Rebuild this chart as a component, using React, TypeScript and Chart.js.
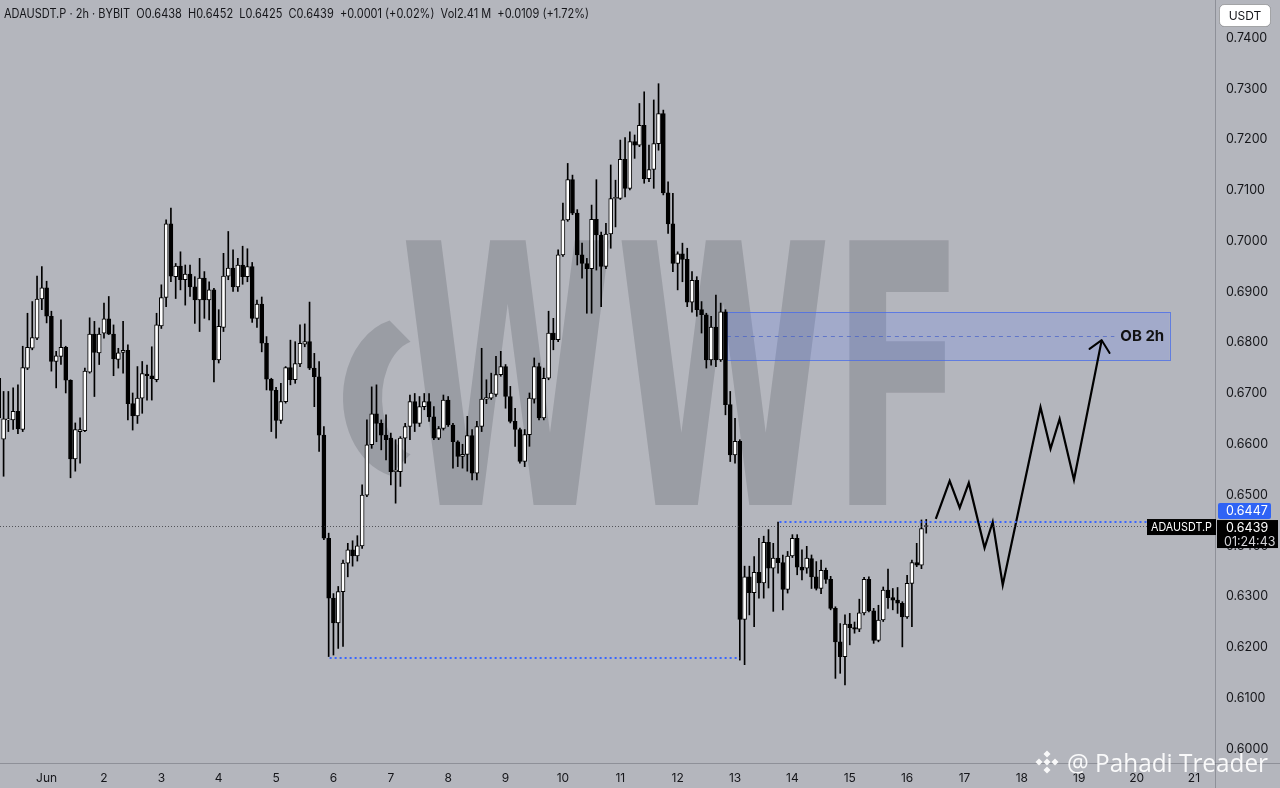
import React, { useEffect, useRef } from 'react';
import { Chart, registerables } from 'chart.js';

Chart.register(...registerables);

// 2h candles; candle index 0 = Jun 1 00:00
const FIRST_CANDLE_INDEX = -10;

const openPrices = [
  0.6730, 0.6610, 0.6648, 0.6648, 0.6665, 0.6629, 0.6750, 0.6789, 0.6809, 0.6886,
  0.6908, 0.6852, 0.6763, 0.6773, 0.6791, 0.6726, 0.6571, 0.6625, 0.6627, 0.6742,
  0.6817, 0.6780, 0.6819, 0.6847, 0.6817, 0.6767, 0.6781, 0.6785, 0.6680, 0.6656,
  0.6691, 0.6738, 0.6735, 0.6727, 0.6833, 0.6889, 0.7034, 0.6930, 0.6951, 0.6924,
  0.6935, 0.6910, 0.6884, 0.6927, 0.6884, 0.6904, 0.6766, 0.6830, 0.6931, 0.6947,
  0.6910, 0.6953, 0.6930, 0.6950, 0.6848, 0.6876, 0.6799, 0.6728, 0.6706, 0.6647,
  0.6684, 0.6751, 0.6727, 0.6758, 0.6797, 0.6802, 0.6750, 0.6733, 0.6618, 0.6415,
  0.6297, 0.6248, 0.6310, 0.6366, 0.6392, 0.6380, 0.6400, 0.6500, 0.6599, 0.6660,
  0.6641, 0.6618, 0.6612, 0.6546, 0.6546, 0.6612, 0.6635, 0.6684, 0.6641, 0.6674,
  0.6684, 0.6654, 0.6612, 0.6631, 0.6687, 0.6638, 0.6605, 0.6576, 0.6580, 0.6617,
  0.6543, 0.6635, 0.6689, 0.6691, 0.6698, 0.6737, 0.6753, 0.6694, 0.6645, 0.6629,
  0.6566, 0.6619, 0.6689, 0.6753, 0.6652, 0.6730, 0.6819, 0.6806, 0.6973, 0.7042,
  0.7121, 0.7055, 0.6973, 0.6956, 0.6946, 0.7043, 0.7012, 0.6950, 0.7014, 0.7084,
  0.7084, 0.7161, 0.7104, 0.7196, 0.7189, 0.7228, 0.7123, 0.7141, 0.7192, 0.7251,
  0.7095, 0.7034, 0.6956, 0.6975, 0.6964, 0.6880, 0.6923, 0.6865, 0.6855, 0.6766,
  0.6831, 0.6766, 0.6861, 0.6678, 0.6579, 0.6606, 0.6255, 0.6339, 0.6308, 0.6348,
  0.6327, 0.6407, 0.6356, 0.6376, 0.6367, 0.6314, 0.6380, 0.6415, 0.6358, 0.6356,
  0.6375, 0.6339, 0.6316, 0.6352, 0.6334, 0.6277, 0.6211, 0.6182, 0.6246, 0.6239,
  0.6236, 0.6268, 0.6334, 0.6272, 0.6214, 0.6254, 0.6313, 0.6298, 0.6293, 0.6287,
  0.6260, 0.6326, 0.6367, 0.6362, 0.6438,
];

const highPrices = [
  0.6735, 0.6704, 0.6704, 0.6711, 0.6717, 0.6793, 0.6858, 0.6881, 0.6931, 0.6950,
  0.6921, 0.6862, 0.6783, 0.6845, 0.6793, 0.6727, 0.6642, 0.6652, 0.6750, 0.6849,
  0.6842, 0.6829, 0.6878, 0.6891, 0.6835, 0.6789, 0.6842, 0.6796, 0.6701, 0.6753,
  0.6763, 0.6756, 0.6792, 0.6858, 0.6914, 0.7042, 0.7065, 0.6956, 0.6979, 0.6953,
  0.6953, 0.6930, 0.6966, 0.6940, 0.6920, 0.6907, 0.6865, 0.6976, 0.7019, 0.6983,
  0.6966, 0.6990, 0.6985, 0.6958, 0.6884, 0.6890, 0.6812, 0.6730, 0.6712, 0.6720,
  0.6753, 0.6805, 0.6802, 0.6835, 0.6837, 0.6880, 0.6779, 0.6763, 0.6635, 0.6425,
  0.6306, 0.6320, 0.6372, 0.6405, 0.6410, 0.6420, 0.6520, 0.6648, 0.6713, 0.6717,
  0.6648, 0.6658, 0.6622, 0.6609, 0.6615, 0.6641, 0.6697, 0.6700, 0.6694, 0.6700,
  0.6700, 0.6674, 0.6635, 0.6697, 0.6694, 0.6641, 0.6607, 0.6600, 0.6655, 0.6629,
  0.6645, 0.6789, 0.6727, 0.6740, 0.6773, 0.6783, 0.6757, 0.6714, 0.6671, 0.6632,
  0.6629, 0.6701, 0.6770, 0.6760, 0.6750, 0.6862, 0.6848, 0.6983, 0.7075, 0.7153,
  0.7130, 0.7062, 0.6996, 0.6966, 0.7071, 0.7121, 0.7018, 0.7035, 0.7150, 0.7120,
  0.7199, 0.7204, 0.7215, 0.7209, 0.7271, 0.7294, 0.7189, 0.7278, 0.7310, 0.7258,
  0.7117, 0.7094, 0.6979, 0.6996, 0.6986, 0.6940, 0.6930, 0.6881, 0.6858, 0.6852,
  0.6894, 0.6878, 0.6865, 0.6704, 0.6651, 0.6609, 0.6360, 0.6360, 0.6379, 0.6415,
  0.6419, 0.6432, 0.6405, 0.6447, 0.6382, 0.6389, 0.6422, 0.6422, 0.6392, 0.6399,
  0.6382, 0.6369, 0.6372, 0.6356, 0.6340, 0.6280, 0.6247, 0.6264, 0.6267, 0.6250,
  0.6295, 0.6338, 0.6339, 0.6277, 0.6283, 0.6319, 0.6354, 0.6316, 0.6318, 0.6290,
  0.6342, 0.6372, 0.6405, 0.6451, 0.6452,
];

const lowPrices = [
  0.6645, 0.6537, 0.6625, 0.6629, 0.6621, 0.6625, 0.6747, 0.6786, 0.6806, 0.6865,
  0.6839, 0.6744, 0.6711, 0.6757, 0.6701, 0.6534, 0.6547, 0.6563, 0.6625, 0.6740,
  0.6694, 0.6757, 0.6809, 0.6816, 0.6735, 0.6750, 0.6740, 0.6648, 0.6628, 0.6641,
  0.6661, 0.6687, 0.6687, 0.6723, 0.6828, 0.6871, 0.6920, 0.6887, 0.6904, 0.6874,
  0.6891, 0.6838, 0.6822, 0.6848, 0.6845, 0.6723, 0.6760, 0.6822, 0.6924, 0.6901,
  0.6901, 0.6915, 0.6920, 0.6840, 0.6830, 0.6782, 0.6707, 0.6625, 0.6612, 0.6641,
  0.6681, 0.6717, 0.6720, 0.6753, 0.6792, 0.6747, 0.6674, 0.6586, 0.6412, 0.6182,
  0.6185, 0.6198, 0.6202, 0.6339, 0.6360, 0.6370, 0.6395, 0.6497, 0.6592, 0.6605,
  0.6589, 0.6569, 0.6520, 0.6484, 0.6517, 0.6563, 0.6609, 0.6625, 0.6635, 0.6668,
  0.6645, 0.6609, 0.6609, 0.6628, 0.6635, 0.6553, 0.6556, 0.6553, 0.6547, 0.6530,
  0.6530, 0.6625, 0.6680, 0.6688, 0.6694, 0.6734, 0.6671, 0.6642, 0.6596, 0.6563,
  0.6556, 0.6596, 0.6681, 0.6648, 0.6648, 0.6727, 0.6786, 0.6802, 0.6970, 0.7039,
  0.7052, 0.6953, 0.6927, 0.6858, 0.6858, 0.6943, 0.6871, 0.6946, 0.6986, 0.7028,
  0.7082, 0.7087, 0.7101, 0.7163, 0.7186, 0.7114, 0.7117, 0.7104, 0.7179, 0.7091,
  0.7015, 0.6940, 0.6904, 0.6920, 0.6871, 0.6860, 0.6852, 0.6819, 0.6750, 0.6756,
  0.6753, 0.6763, 0.6658, 0.6566, 0.6563, 0.6175, 0.6166, 0.6264, 0.6241, 0.6297,
  0.6297, 0.6317, 0.6271, 0.6346, 0.6274, 0.6307, 0.6377, 0.6343, 0.6333, 0.6346,
  0.6316, 0.6313, 0.6306, 0.6326, 0.6274, 0.6139, 0.6149, 0.6126, 0.6205, 0.6228,
  0.6231, 0.6264, 0.6270, 0.6208, 0.6211, 0.6251, 0.6277, 0.6274, 0.6267, 0.6201,
  0.6257, 0.6241, 0.6359, 0.6355, 0.6425,
];

const closePrices = [
  0.6652, 0.6650, 0.6650, 0.6665, 0.6630, 0.6751, 0.6791, 0.6810, 0.6886, 0.6908,
  0.6852, 0.6763, 0.6774, 0.6791, 0.6726, 0.6571, 0.6629, 0.6629, 0.6744, 0.6817,
  0.6781, 0.6817, 0.6847, 0.6817, 0.6768, 0.6780, 0.6785, 0.6680, 0.6656, 0.6691,
  0.6739, 0.6735, 0.6729, 0.6835, 0.6889, 0.7034, 0.6931, 0.6951, 0.6924, 0.6935,
  0.6910, 0.6884, 0.6927, 0.6884, 0.6904, 0.6766, 0.6832, 0.6931, 0.6947, 0.6910,
  0.6953, 0.6930, 0.6950, 0.6848, 0.6876, 0.6799, 0.6728, 0.6706, 0.6647, 0.6684,
  0.6751, 0.6727, 0.6759, 0.6799, 0.6802, 0.6750, 0.6733, 0.6618, 0.6415, 0.6297,
  0.6248, 0.6310, 0.6366, 0.6392, 0.6380, 0.6400, 0.6500, 0.6599, 0.6660, 0.6641,
  0.6618, 0.6609, 0.6546, 0.6549, 0.6612, 0.6635, 0.6684, 0.6641, 0.6674, 0.6684,
  0.6654, 0.6612, 0.6631, 0.6687, 0.6638, 0.6605, 0.6576, 0.6580, 0.6617, 0.6543,
  0.6635, 0.6689, 0.6692, 0.6701, 0.6737, 0.6753, 0.6694, 0.6645, 0.6629, 0.6566,
  0.6619, 0.6691, 0.6753, 0.6652, 0.6730, 0.6819, 0.6806, 0.6973, 0.7042, 0.7121,
  0.7055, 0.6973, 0.6956, 0.6946, 0.7043, 0.7012, 0.6950, 0.7014, 0.7084, 0.7086,
  0.7161, 0.7104, 0.7196, 0.7189, 0.7228, 0.7123, 0.7141, 0.7192, 0.7251, 0.7095,
  0.7034, 0.6956, 0.6975, 0.6964, 0.6880, 0.6923, 0.6865, 0.6855, 0.6766, 0.6831,
  0.6766, 0.6861, 0.6678, 0.6579, 0.6606, 0.6255, 0.6339, 0.6308, 0.6348, 0.6327,
  0.6407, 0.6356, 0.6376, 0.6367, 0.6314, 0.6380, 0.6415, 0.6358, 0.6352, 0.6376,
  0.6339, 0.6316, 0.6352, 0.6334, 0.6277, 0.6211, 0.6182, 0.6246, 0.6239, 0.6236,
  0.6268, 0.6334, 0.6272, 0.6214, 0.6254, 0.6313, 0.6298, 0.6293, 0.6287, 0.6260,
  0.6326, 0.6367, 0.6362, 0.6434, 0.6439,
];

const dayTickIndex = [0, 12, 24, 36, 48, 60, 72, 84, 96, 108, 120, 132, 144, 156, 168, 180, 192, 204, 216, 228, 240];
const dayTickLabels = ['Jun', '2', '3', '4', '5', '6', '7', '8', '9', '10', '11', '12', '13', '14', '15', '16', '17', '18', '19', '20', '21'];
const priceTicks = [0.60, 0.61, 0.62, 0.63, 0.64, 0.65, 0.66, 0.67, 0.68, 0.69, 0.70, 0.71, 0.72, 0.73, 0.74];

// hand-drawn projection path (candle index, price)
const projectionIndex = [186.0, 188.9, 191.0, 192.9, 196.2, 197.9, 200.0, 207.9, 210.0, 211.9, 214.9, 220.7];
const projectionPrice = [0.6453, 0.6528, 0.6475, 0.6524, 0.6396, 0.6447, 0.6323, 0.6673, 0.6591, 0.6650, 0.6530, 0.6805];

const obIndexRange = [142.3, 234.9];
const obPriceRange = [0.6766, 0.6860];
const obMidPrice = 0.6813;
const obLabelIndex = 224.6;
const obLabel = 'OB 2h';

const resistancePrice = 0.6447;
const resistanceStartIndex = 153.3;
const supportPrice = 0.6179;
const supportIndexRange = [59.2, 145.0];

const lastPrice = 0.6439;
const markPriceText = '0.6447';
const countdownText = '01:24:43';
const symbolText = 'ADAUSDT.P';
const headerText = 'ADAUSDT.P · 2h · BYBIT  O0.6438  H0.6452  L0.6425  C0.6439  +0.0001 (+0.02%)  Vol2.41 M  +0.0109 (+1.72%)';

const xRange = [-9.75, 244.4];
const yRange = [0.59724, 0.74748];

const FONT = 'Inter, "Noto Sans", sans-serif';

export default function App() {
  const canvasRef = useRef<HTMLCanvasElement>(null);

  useEffect(() => {
    const canvas = canvasRef.current;
    if (!canvas) return;

    const candleX = openPrices.map((_, k) => FIRST_CANDLE_INDEX + k);
    const bodies = candleX.map((x, k) => ({ x, y: [openPrices[k], closePrices[k]] }));
    const wicks = candleX.map((x, k) => ({
      x,
      y: [Math.min(lowPrices[k], openPrices[k], closePrices[k]), Math.max(highPrices[k], openPrices[k], closePrices[k])],
    }));
    const bodyFill = candleX.map((_, k) => (closePrices[k] >= openPrices[k] ? '#ffffff' : '#000000'));

    const bgPlugin = {
      id: 'bgPlugin',
      beforeDraw(chart: any) {
        const { ctx, width, height } = chart;
        ctx.save();
        ctx.fillStyle = '#b4b6bd';
        ctx.fillRect(0, 0, width, height);
        ctx.restore();
      },
    };

    const underlayPlugin = {
      id: 'underlayPlugin',
      beforeDatasetsDraw(chart: any) {
        const { ctx, chartArea: ca, scales } = chart;
        const xs = scales.x;
        const ys = scales.y;
        ctx.save();
        ctx.beginPath();
        ctx.rect(ca.left, ca.top, ca.right - ca.left, ca.bottom - ca.top);
        ctx.clip();

        // watermark logo
        ctx.fillStyle = 'rgba(70,72,82,0.23)';
        // crescent
        ctx.beginPath();
        ctx.ellipse(405, 398, 62, 80, 0, Math.PI * 0.58, Math.PI * 1.42, false);
        ctx.ellipse(420, 398, 38, 58, 0, Math.PI * 1.42, Math.PI * 0.58, true);
        ctx.closePath();
        ctx.fill();
        // letters
        ctx.font = 'bold 200px "DejaVu Sans"';
        const tw = ctx.measureText('WWF').width;
        const left = 400;
        const right = 965;
        const top = 240;
        const bottom = 505;
        ctx.translate(left, bottom);
        ctx.scale((right - left) / tw, (bottom - top) / 146);
        ctx.textBaseline = 'alphabetic';
        ctx.fillText('WWF', 0, 0);
        ctx.restore();

        // OB zone box
        ctx.save();
        const bx1 = xs.getPixelForValue(obIndexRange[0]);
        const bx2 = xs.getPixelForValue(obIndexRange[1]);
        const by1 = ys.getPixelForValue(obPriceRange[1]);
        const by2 = ys.getPixelForValue(obPriceRange[0]);
        ctx.fillStyle = 'rgba(90,125,255,0.2)';
        ctx.fillRect(bx1, by1, bx2 - bx1, by2 - by1);
        ctx.strokeStyle = 'rgba(70,105,235,0.75)';
        ctx.lineWidth = 1;
        ctx.strokeRect(Math.round(bx1) + 0.5, Math.round(by1) + 0.5, Math.round(bx2 - bx1), Math.round(by2 - by1));
        ctx.setLineDash([4, 4]);
        ctx.strokeStyle = 'rgba(70,95,200,0.7)';
        const my = Math.round(ys.getPixelForValue(obMidPrice)) + 0.5;
        ctx.beginPath();
        ctx.moveTo(bx1, my);
        ctx.lineTo(xs.getPixelForValue(obLabelIndex) - 6, my);
        ctx.stroke();
        ctx.restore();
      },
    };

    const overlayPlugin = {
      id: 'overlayPlugin',
      afterDatasetsDraw(chart: any) {
        const { ctx, chartArea: ca, scales } = chart;
        const xs = scales.x;
        const ys = scales.y;
        ctx.save();

        // last price dotted line
        const yLast = Math.round(ys.getPixelForValue(lastPrice)) + 0.5;
        ctx.strokeStyle = 'rgba(50,50,55,0.75)';
        ctx.lineWidth = 1;
        ctx.setLineDash([1, 2]);
        ctx.beginPath();
        ctx.moveTo(ca.left, yLast);
        ctx.lineTo(ca.right, yLast);
        ctx.stroke();

        // blue dotted levels
        ctx.strokeStyle = '#3a66ff';
        ctx.lineWidth = 2;
        ctx.setLineDash([2, 3]);
        const yr = Math.round(ys.getPixelForValue(resistancePrice));
        ctx.beginPath();
        ctx.moveTo(xs.getPixelForValue(resistanceStartIndex), yr);
        ctx.lineTo(ca.right, yr);
        ctx.stroke();
        const ysup = Math.round(ys.getPixelForValue(supportPrice));
        ctx.beginPath();
        ctx.moveTo(xs.getPixelForValue(supportIndexRange[0]), ysup);
        ctx.lineTo(xs.getPixelForValue(supportIndexRange[1]), ysup);
        ctx.stroke();
        ctx.setLineDash([]);

        // arrow head on projection
        const n = projectionIndex.length;
        const x1 = xs.getPixelForValue(projectionIndex[n - 2]);
        const y1 = ys.getPixelForValue(projectionPrice[n - 2]);
        const x2 = xs.getPixelForValue(projectionIndex[n - 1]);
        const y2 = ys.getPixelForValue(projectionPrice[n - 1]);
        const ang = Math.atan2(y2 - y1, x2 - x1);
        const len = 15;
        const spread = 0.75;
        ctx.strokeStyle = '#000';
        ctx.lineWidth = 2;
        ctx.lineCap = 'round';
        ctx.lineJoin = 'round';
        ctx.beginPath();
        ctx.moveTo(x2 - len * Math.cos(ang - spread), y2 - len * Math.sin(ang - spread));
        ctx.lineTo(x2, y2);
        ctx.lineTo(x2 - len * Math.cos(ang + spread), y2 - len * Math.sin(ang + spread));
        ctx.stroke();

        // OB label
        ctx.fillStyle = '#111';
        ctx.font = `bold 15px ${FONT}`;
        ctx.textAlign = 'left';
        ctx.textBaseline = 'middle';
        ctx.fillText(obLabel, xs.getPixelForValue(obLabelIndex), ys.getPixelForValue(obMidPrice));
        ctx.restore();
      },
      afterDraw(chart: any) {
        const { ctx, chartArea: ca, scales, width, height } = chart;
        const ys = scales.y;
        ctx.save();

        // axis lines
        ctx.strokeStyle = 'rgba(95,97,106,0.45)';
        ctx.lineWidth = 1;
        ctx.beginPath();
        ctx.moveTo(Math.round(ca.right) + 0.5, 0);
        ctx.lineTo(Math.round(ca.right) + 0.5, height);
        ctx.moveTo(0, Math.round(ca.bottom) + 0.5);
        ctx.lineTo(width, Math.round(ca.bottom) + 0.5);
        ctx.stroke();

        // header
        ctx.fillStyle = '#15161a';
        ctx.font = `12.5px ${FONT}`;
        ctx.textAlign = 'left';
        ctx.textBaseline = 'middle';
        ctx.fillText(headerText, 4, 14, 585);

        // USDT box
        ctx.beginPath();
        ctx.roundRect(1219.5, 4.5, 51, 22, 5);
        ctx.fillStyle = '#ffffff';
        ctx.fill();
        ctx.strokeStyle = 'rgba(0,0,0,0.25)';
        ctx.stroke();
        ctx.fillStyle = '#15161a';
        ctx.font = `12px ${FONT}`;
        ctx.textAlign = 'center';
        ctx.fillText('USDT', 1245, 16);

        // price labels
        const yL = ys.getPixelForValue(lastPrice);
        ctx.textAlign = 'left';
        ctx.fillStyle = '#000';
        ctx.fillRect(ca.right + 2, yL - 6, 61, 28);
        ctx.fillStyle = '#ffffff';
        ctx.font = `12.5px ${FONT}`;
        ctx.fillText(lastPrice.toFixed(4), ca.right + 11, yL + 2);
        ctx.fillStyle = '#d4d4d8';
        ctx.fillText(countdownText, ca.right + 9, yL + 16);

        ctx.beginPath();
        ctx.roundRect(ca.right + 3, yL - 23, 53, 16, 2);
        ctx.fillStyle = '#2f63f5';
        ctx.fill();
        ctx.fillStyle = '#ffffff';
        ctx.fillText(markPriceText, ca.right + 11, yL - 15);

        ctx.fillStyle = '#000';
        ctx.fillRect(ca.right - 68, yL - 7, 69, 16);
        ctx.fillStyle = '#ffffff';
        ctx.font = `12px ${FONT}`;
        ctx.fillText(symbolText, ca.right - 64, yL + 1, 61);

        // bottom-right signature
        ctx.fillStyle = 'rgba(255,255,255,0.92)';
        const cx = 1047;
        const cy = 762;
        const diamond = (dx: number, dy: number, s: number) => {
          ctx.beginPath();
          ctx.moveTo(cx + dx, cy + dy - s);
          ctx.lineTo(cx + dx + s, cy + dy);
          ctx.lineTo(cx + dx, cy + dy + s);
          ctx.lineTo(cx + dx - s, cy + dy);
          ctx.closePath();
          ctx.fill();
        };
        diamond(0, 0, 3.5);
        diamond(0, -8, 3.5);
        diamond(0, 8, 3.5);
        diamond(-8, 0, 3.5);
        diamond(8, 0, 3.5);
        ctx.font = `26px "Open Sans", ${FONT}`;
        ctx.textBaseline = 'alphabetic';
        ctx.fillText('@ Pahadi Treader', 1067, 772, 201);
        ctx.restore();
      },
    };

    const chart = new Chart(canvas, {
      type: 'bar',
      data: {
        datasets: [
          {
            type: 'line',
            label: 'projection',
            data: projectionIndex.map((x, k) => ({ x, y: projectionPrice[k] })),
            borderColor: '#000000',
            borderWidth: 2.2,
            pointRadius: 0,
            tension: 0,
            order: -1,
          } as any,
          {
            label: 'bodies',
            data: bodies as any,
            backgroundColor: bodyFill,
            borderColor: '#000000',
            borderWidth: 1,
            borderSkipped: false,
            barThickness: 4,
            minBarLength: 1,
            grouped: false,
            order: 0,
          },
          {
            label: 'wicks',
            data: wicks as any,
            backgroundColor: '#000000',
            barThickness: 1,
            grouped: false,
            order: 1,
          },
        ],
      },
      options: {
        responsive: false,
        animation: false,
        events: [],
        layout: { padding: 0, autoPadding: false },
        plugins: { legend: { display: false }, tooltip: { enabled: false } },
        scales: {
          x: {
            type: 'linear',
            min: xRange[0],
            max: xRange[1],
            offset: false,
            grid: { display: false, drawTicks: false },
            border: { display: false },
            afterBuildTicks: (s: any) => {
              s.ticks = dayTickIndex.map((v) => ({ value: v }));
            },
            afterFit: (s: any) => {
              s.height = 25;
              s.paddingLeft = 0;
              s.paddingRight = 0;
              s.paddingTop = 0;
              s.paddingBottom = 0;
            },
            ticks: {
              autoSkip: false,
              maxRotation: 0,
              padding: 8,
              color: '#15161a',
              font: { family: FONT, size: 12 },
              callback: (v: any) => {
                const k = dayTickIndex.indexOf(Math.round(Number(v)));
                return k >= 0 ? dayTickLabels[k] : '';
              },
            },
          },
          y: {
            type: 'linear',
            position: 'right',
            min: yRange[0],
            max: yRange[1],
            grid: { display: false, drawTicks: false },
            border: { display: false },
            afterBuildTicks: (s: any) => {
              s.ticks = priceTicks.map((v) => ({ value: v }));
            },
            afterFit: (s: any) => {
              s.width = 65;
              s.paddingLeft = 0;
              s.paddingRight = 0;
              s.paddingTop = 0;
              s.paddingBottom = 0;
            },
            ticks: {
              padding: 11,
              color: '#15161a',
              font: { family: FONT, size: 12.5 },
              callback: (v: any) => Number(v).toFixed(4),
            },
          },
        },
      } as any,
      plugins: [bgPlugin, underlayPlugin, overlayPlugin],
    });

    return () => chart.destroy();
  }, []);

  return (
    <div style={{ position: 'fixed', left: 0, top: 0, width: 1280, height: 788 }}>
      <canvas ref={canvasRef} width={1280} height={788} style={{ display: 'block', width: 1280, height: 788 }} />
    </div>
  );
}
